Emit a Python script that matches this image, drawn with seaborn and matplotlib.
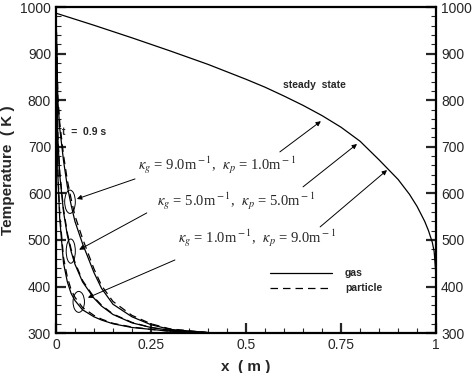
import numpy as np
import pandas as pd
import matplotlib
matplotlib.use("Agg")
import matplotlib.pyplot as plt
from matplotlib.patches import Ellipse
from matplotlib.ticker import MultipleLocator
import seaborn as sns

# steady state gas temperature
x_steady = [0.0, 0.1, 0.2, 0.3, 0.4, 0.5, 0.55, 0.6, 0.65, 0.7, 0.75, 0.8, 0.85, 0.9,
            0.93, 0.95, 0.97, 0.98, 0.99, 0.995, 1.0]
T_steady = [987, 961, 934, 906, 877, 845, 828, 809, 789, 767, 742, 712, 672, 630,
            598, 572, 540, 520, 495, 475, 420]

# transient profiles at t = 0.9 s
x_t = [0.0, 0.005, 0.01, 0.02, 0.03, 0.04, 0.05, 0.07, 0.1, 0.12, 0.15, 0.2, 0.25, 0.3, 0.4, 0.5, 1.0]
# kg = 9, kp = 1
T_gas_a = [1000, 800, 740, 670, 615, 575, 540, 492, 430, 396, 362, 335, 318, 308, 301, 300, 300]
T_par_a = [1000, 810, 752, 682, 628, 588, 552, 503, 438, 402, 368, 338, 320, 309, 301, 300, 300]
# kg = 5, kp = 5
T_gas_b = [1000, 720, 640, 560, 510, 475, 448, 410, 375, 358, 340, 322, 312, 306, 301, 300, 300]
T_par_b = [1000, 726, 646, 566, 515, 480, 452, 413, 377, 360, 341, 323, 312, 306, 301, 300, 300]
# kg = 1, kp = 9
T_gas_c = [1000, 640, 545, 450, 410, 385, 370, 350, 335, 328, 320, 312, 308, 304, 301, 300, 300]
T_par_c = [1000, 650, 556, 462, 420, 393, 377, 355, 338, 330, 321, 313, 308, 304, 301, 300, 300]

labels = [r"$\kappa_g$ = 9.0m$^{\rm -1}$,  $\kappa_p$ = 1.0m$^{\rm -1}$",
          r"$\kappa_g$ = 5.0m$^{\rm -1}$,  $\kappa_p$ = 5.0m$^{\rm -1}$",
          r"$\kappa_g$ = 1.0m$^{\rm -1}$,  $\kappa_p$ = 9.0m$^{\rm -1}$"]
label_pos = [(0.216, 661), (0.266, 582), (0.321, 504)]
left_arrows = [((0.208, 631), (0.055, 588)), ((0.239, 558), (0.061, 479)), ((0.313, 457), (0.084, 376))]
right_arrows = [((0.589, 689), (0.697, 755)), ((0.650, 614), (0.792, 706)), ((0.695, 528), (0.871, 650))]
ellipses = [(0.037, 582, 0.028, 50), (0.039, 476, 0.024, 52), (0.060, 367, 0.030, 45)]

sns.set_style("white")
plt.rcParams["font.family"] = ["Liberation Sans", "DejaVu Sans"]
plt.rcParams["mathtext.fontset"] = "stix"

fig = plt.figure(figsize=(4.74, 3.73), dpi=100)
ax = fig.add_axes([0.118, 0.107, 0.802, 0.874])

sns.lineplot(x=x_steady, y=T_steady, color="black", lw=0.9, ax=ax)
for g, p in [(T_gas_a, T_par_a), (T_gas_b, T_par_b), (T_gas_c, T_par_c)]:
    sns.lineplot(x=x_t, y=g, color="black", lw=0.9, ax=ax)
    sns.lineplot(x=x_t, y=p, color="black", lw=0.9, ax=ax, linestyle=(0, (6, 4)))

ax.set_xlim(0, 1)
ax.set_ylim(300, 1000)
ax.set_xticks([0, 0.25, 0.5, 0.75, 1])
ax.set_xticklabels(["0", "0.25", "0.5", "0.75", "1"])
ax.xaxis.set_minor_locator(MultipleLocator(0.05))
ax.yaxis.set_major_locator(MultipleLocator(100))
ax.yaxis.set_minor_locator(MultipleLocator(20))
ax.tick_params(which="major", direction="in", length=7, width=1.6, labelsize=10,
               left=True, right=True, bottom=True, top=False, labelright=True)
ax.tick_params(which="minor", direction="in", length=3.5, width=0.8,
               left=True, right=True, bottom=True, top=False)
for s in ax.spines.values():
    s.set_linewidth(1.6)
    s.set_color("black")

ax.set_xlabel("x  ( m )", fontsize=11, fontweight="bold", labelpad=6)
ax.set_ylabel("Temperature  ( K )", fontsize=11, fontweight="bold", labelpad=4)

ax.text(0.597, 833, "steady  state", fontsize=7.5, fontweight="bold", va="center")
ax.text(0.016, 732, "t  =  0.9 s", fontsize=7.5, fontweight="bold", va="center")

for lab, (lx, ly) in zip(labels, label_pos):
    ax.text(lx, ly, lab, fontsize=10.5, va="center", family="Liberation Serif")

for (start, end) in left_arrows + right_arrows:
    ax.annotate("", xy=end, xytext=start,
                arrowprops=dict(arrowstyle="-|>", color="black", lw=0.7,
                                mutation_scale=7, shrinkA=0, shrinkB=0))

for cx, cy, w, h in ellipses:
    ax.add_patch(Ellipse((cx, cy), w, h, fill=False, edgecolor="black", lw=0.7))

# legend
ax.plot([0.563, 0.726], [429, 429], color="black", lw=0.9)
ax.plot([0.563, 0.726], [397, 397], color="black", lw=0.9, linestyle=(0, (6, 4)))
ax.text(0.76, 429, "gas", fontsize=7.5, fontweight="bold", va="center")
ax.text(0.76, 397, "particle", fontsize=7.5, fontweight="bold", va="center")

fig.savefig("out.png", dpi=100)
